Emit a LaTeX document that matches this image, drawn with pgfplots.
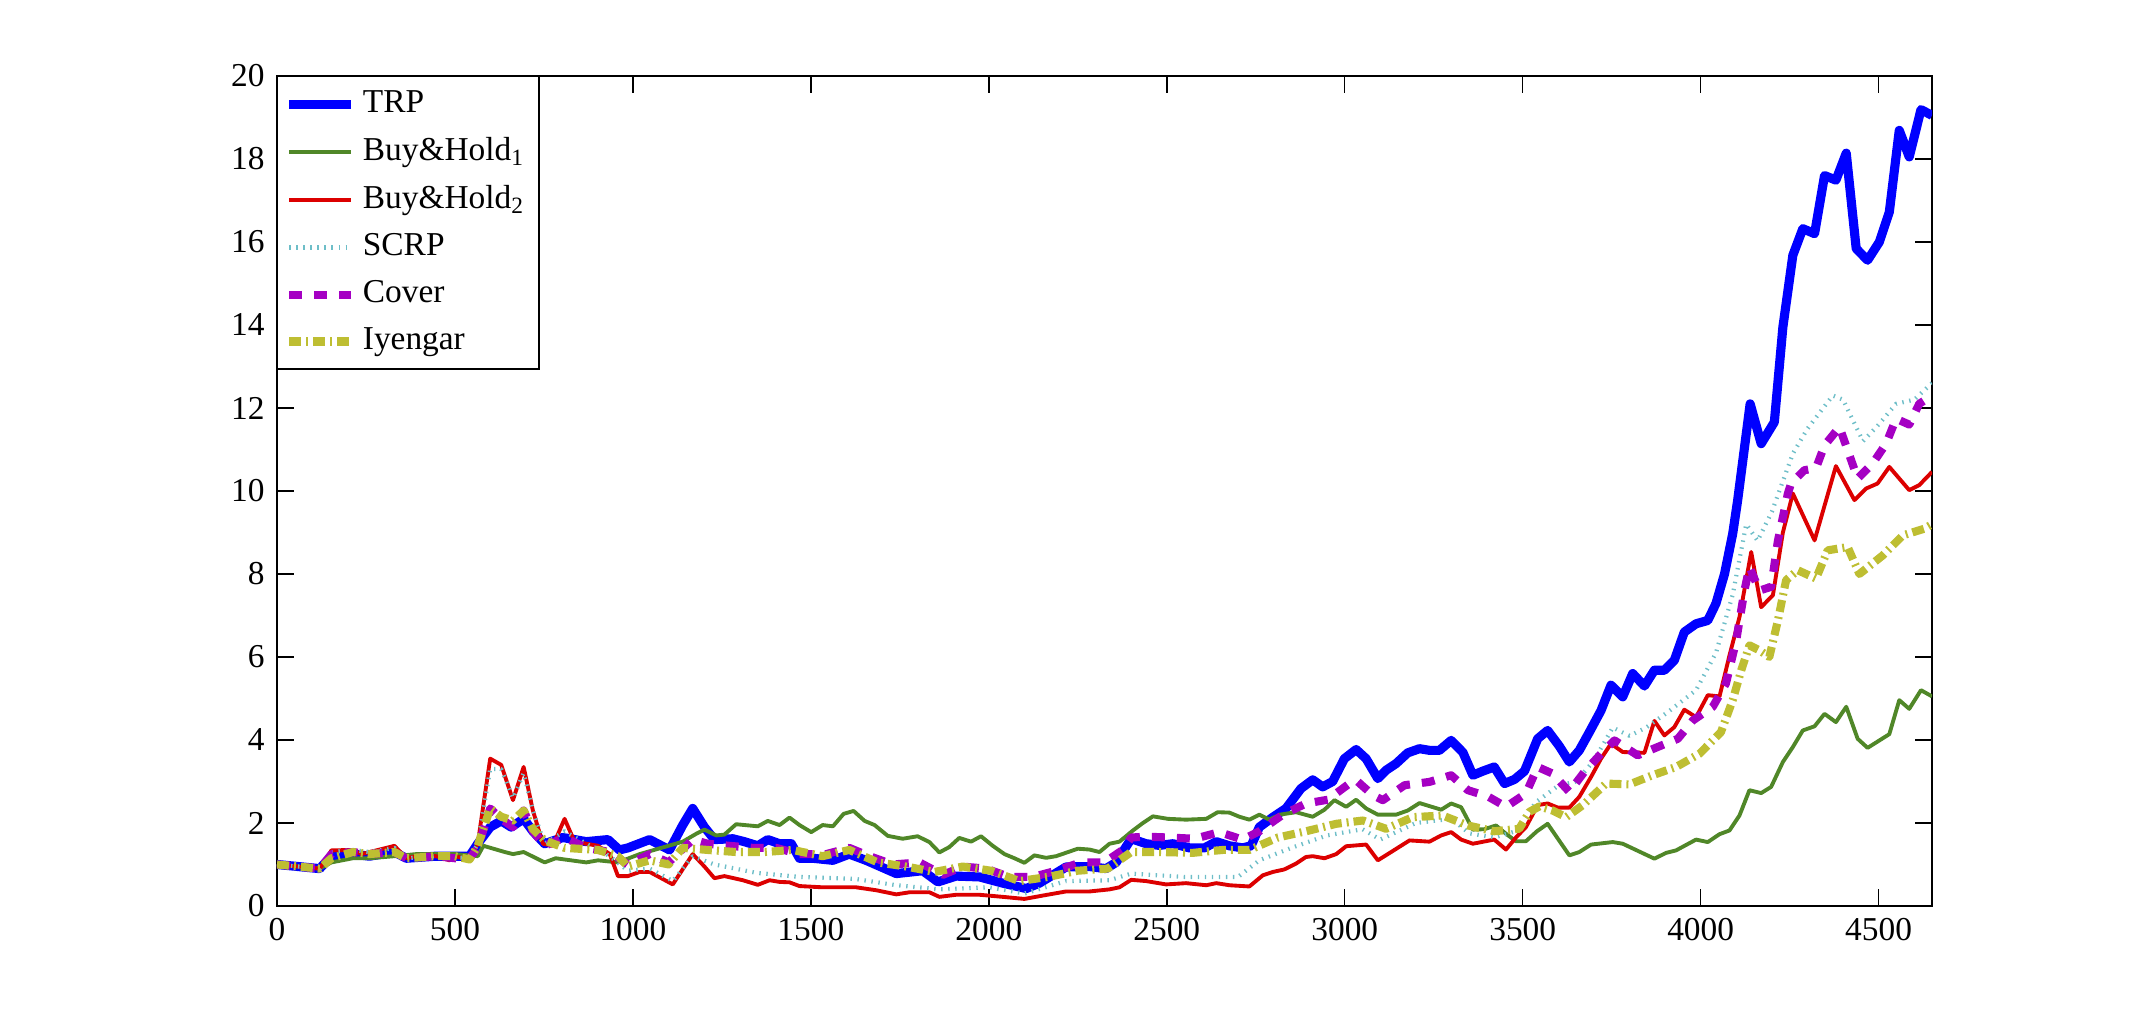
\documentclass[border=0pt]{standalone}
\usepackage{fontspec}
\setmainfont{Liberation Serif}
\usepackage{pgfplots}
\pgfplotsset{compat=1.18}

\definecolor{trpblue}{RGB}{0,0,255}
\definecolor{bhgreen}{RGB}{80,135,40}
\definecolor{bhred}{RGB}{220,0,0}
\definecolor{scrpcyan}{RGB}{110,190,200}
\definecolor{covpurple}{RGB}{165,0,195}
\definecolor{iyeyellow}{RGB}{190,190,50}

\begin{document}
\begin{tikzpicture}
\useasboundingbox (-2.77cm,-1.14cm) rectangle (18.58cm,9.06cm);
\begin{axis}[at={(0,0)}, anchor=south west,
  width=16.55cm, height=8.30cm, scale only axis,
  xmin=0, xmax=4650, ymin=0, ymax=20,
  xtick={0,500,...,4500}, ytick={0,2,...,20},
  /pgf/number format/1000 sep={},
  /pgf/number format/assume math mode=true,
  tick label style={font=\fontsize{9.5}{11}\selectfont},
  major tick length=0.17cm, tick style={black, line width=0.4pt},
  axis line style={black, line width=0.6pt},
  legend style={at={(0,1)}, anchor=north west, draw=black, line width=0.4pt,
    font=\fontsize{9.5}{11}\selectfont, cells={anchor=west},
    row sep=1.6pt, inner sep=2pt},
  legend image code/.code={\draw[#1] (0cm,0cm) -- (0.62cm,0cm);},
  every axis plot/.append style={line join=round}]

% TRP
\addplot[trpblue, line width=2.6pt] coordinates {
(0,1.0) (60,0.95) (120,0.9) (153,1.2) (213,1.25) (260,1.2) (330,1.3) (363,1.15)
(447,1.2) (541,1.2) (564,1.5) (599,1.9) (630,2.05) (658,1.9) (693,2.1) (719,1.8)
(752,1.5) (803,1.65) (869,1.55) (930,1.6) (962,1.35) (986,1.4) (1047,1.6) (1103,1.35)
(1140,1.95) (1168,2.35) (1201,1.9) (1229,1.6) (1281,1.62) (1313,1.55) (1351,1.45)
(1379,1.6) (1412,1.5) (1445,1.5) (1468,1.15) (1505,1.15) (1562,1.1) (1608,1.25)
(1655,1.1) (1740,0.78) (1814,0.85) (1857,0.58) (1908,0.72) (1974,0.7) (2039,0.55)
(2105,0.42) (2142,0.55) (2217,0.94) (2283,0.95) (2329,0.9) (2358,1.05) (2376,1.3)
(2400,1.62) (2442,1.5) (2479,1.46) (2517,1.5) (2564,1.4) (2606,1.4) (2639,1.55)
(2676,1.45) (2713,1.4) (2737,1.45) (2760,1.9) (2798,2.14) (2835,2.35) (2877,2.83)
(2910,3.04) (2938,2.87) (2966,3.0) (2999,3.55) (3032,3.77) (3060,3.55) (3093,3.07)
(3116,3.27) (3144,3.43) (3177,3.69) (3210,3.79) (3238,3.75) (3266,3.75) (3299,3.99)
(3332,3.7) (3360,3.15) (3388,3.25) (3420,3.35) (3449,2.95) (3477,3.05) (3505,3.25)
(3542,4.03) (3570,4.23) (3603,3.85) (3631,3.47) (3659,3.75) (3688,4.2) (3720,4.71)
(3748,5.32) (3781,5.04) (3809,5.6) (3842,5.3) (3870,5.68) (3898,5.68) (3926,5.92)
(3954,6.6) (3987,6.8) (4020,6.88) (4043,7.29) (4067,8.0) (4090,8.97) (4104,9.78)
(4139,12.1) (4170,11.14) (4207,11.66) (4231,13.95) (4259,15.68) (4287,16.32)
(4320,16.2) (4348,17.6) (4380,17.49) (4409,18.14) (4437,15.84) (4469,15.56)
(4502,16.0) (4530,16.72) (4558,18.69) (4586,18.05) (4619,19.19) (4650,19.05)};
\addlegendentry{TRP}

% Buy&Hold 1
\addplot[bhgreen, line width=1.1pt] coordinates {
(0,1.0) (60,0.95) (120,0.9) (153,1.05) (213,1.15) (260,1.15) (330,1.2) (391,1.25)
(500,1.25) (564,1.2) (580,1.45) (640,1.3) (663,1.25) (693,1.3) (752,1.05) (783,1.15)
(869,1.05) (902,1.1) (958,1.05) (1019,1.25) (1100,1.45) (1140,1.55) (1178,1.74)
(1201,1.84) (1234,1.7) (1257,1.72) (1290,1.97) (1351,1.92) (1379,2.05) (1412,1.95)
(1440,2.13) (1468,1.95) (1501,1.78) (1533,1.95) (1562,1.92) (1592,2.22) (1620,2.29)
(1651,2.05) (1679,1.95) (1716,1.69) (1758,1.62) (1800,1.68) (1833,1.54) (1861,1.29)
(1889,1.42) (1917,1.64) (1950,1.55) (1978,1.68) (2011,1.45) (2044,1.25) (2072,1.15)
(2100,1.04) (2128,1.22) (2161,1.16) (2189,1.2) (2250,1.38) (2283,1.36) (2311,1.3)
(2339,1.5) (2367,1.55) (2405,1.82) (2433,2.0) (2461,2.16) (2503,2.1) (2554,2.08)
(2611,2.1) (2643,2.26) (2676,2.25) (2704,2.15) (2732,2.08) (2760,2.2) (2788,2.08)
(2817,2.2) (2863,2.26) (2910,2.15) (2943,2.32) (2971,2.55) (3004,2.39) (3032,2.56)
(3060,2.35) (3093,2.2) (3144,2.2) (3177,2.3) (3210,2.48) (3271,2.32) (3299,2.47)
(3327,2.38) (3360,1.84) (3392,1.85) (3425,1.94) (3453,1.74) (3481,1.56) (3509,1.56)
(3540,1.8) (3570,1.98) (3631,1.22) (3659,1.3) (3692,1.48) (3753,1.54) (3781,1.5)
(3870,1.14) (3903,1.28) (3931,1.34) (3987,1.6) (4020,1.54) (4053,1.73) (4081,1.82)
(4109,2.18) (4137,2.79) (4170,2.72) (4198,2.87) (4231,3.47) (4259,3.83) (4287,4.23)
(4320,4.33) (4348,4.63) (4380,4.43) (4409,4.8) (4441,4.03) (4469,3.81) (4530,4.14)
(4558,4.96) (4586,4.75) (4619,5.2) (4650,5.05)};
\addlegendentry{Buy\&Hold\textsubscript{1}}

% Buy&Hold 2
\addplot[bhred, line width=1.1pt] coordinates {
(0,1.0) (60,0.95) (120,0.9) (153,1.34) (213,1.35) (237,1.25) (298,1.38) (330,1.45)
(363,1.15) (391,1.2) (447,1.2) (485,1.1) (500,1.2) (541,1.12) (564,1.5) (599,3.55)
(630,3.4) (663,2.55) (693,3.35) (719,2.3) (747,1.5) (775,1.45) (808,2.1) (836,1.55)
(869,1.5) (902,1.45) (935,1.25) (958,0.72) (986,0.72) (1019,0.82) (1047,0.82)
(1112,0.52) (1168,1.25) (1201,0.95) (1229,0.67) (1257,0.72) (1309,0.62) (1351,0.51)
(1384,0.62) (1412,0.58) (1440,0.57) (1468,0.48) (1533,0.45) (1627,0.45) (1683,0.38)
(1740,0.28) (1777,0.33) (1833,0.33) (1861,0.22) (1908,0.27) (1974,0.27) (2039,0.22)
(2100,0.17) (2151,0.25) (2217,0.35) (2283,0.35) (2339,0.4) (2367,0.45) (2400,0.63)
(2442,0.6) (2498,0.52) (2554,0.55) (2611,0.5) (2639,0.55) (2676,0.5) (2732,0.47)
(2770,0.74) (2798,0.82) (2830,0.88) (2863,1.02) (2891,1.18) (2910,1.2) (2943,1.15)
(2976,1.25) (3004,1.44) (3060,1.48) (3093,1.1) (3121,1.25) (3182,1.58) (3238,1.55)
(3271,1.7) (3299,1.78) (3327,1.6) (3360,1.5) (3420,1.6) (3453,1.36) (3481,1.65)
(3509,1.9) (3519,2.06) (3542,2.43) (3570,2.47) (3599,2.37) (3631,2.37) (3659,2.63)
(3692,3.11) (3720,3.55) (3748,3.91) (3781,3.71) (3842,3.69) (3870,4.46) (3898,4.11)
(3926,4.31) (3954,4.73) (3987,4.55) (4020,5.08) (4053,5.05) (4081,6.04) (4109,6.96)
(4142,8.53) (4170,7.2) (4203,7.49) (4231,9.0) (4259,9.94) (4320,8.81) (4380,10.6)
(4432,9.78) (4465,10.06) (4497,10.18) (4530,10.58) (4586,10.02) (4614,10.14)
(4650,10.46)};
\addlegendentry{Buy\&Hold\textsubscript{2}}

% SCRP
\addplot[scrpcyan, line width=1.2pt, dash pattern=on 0.4pt off 1.6pt] coordinates {
(0,1.0) (60,0.95) (120,0.9) (153,1.3) (213,1.35) (260,1.3) (330,1.4) (363,1.15)
(447,1.2) (541,1.15) (564,1.5) (599,3.3) (630,3.3) (663,2.6) (693,3.2) (719,2.3)
(752,1.5) (808,1.8) (869,1.5) (935,1.2) (986,0.85) (1047,0.9) (1112,0.6) (1168,1.2)
(1229,1.0) (1346,0.8) (1468,0.7) (1627,0.65) (1740,0.5) (1861,0.4) (2002,0.45)
(2100,0.3) (2217,0.6) (2339,0.62) (2400,0.78) (2550,0.7) (2700,0.7) (2760,1.1)
(2850,1.4) (2950,1.7) (3050,1.85) (3100,1.6) (3200,2.0) (3300,2.1) (3350,1.75)
(3420,1.65) (3480,1.8) (3537,2.5) (3600,2.9) (3650,3.0) (3700,3.5) (3753,4.3)
(3800,4.1) (3847,4.3) (3912,4.7) (3987,5.2) (4043,6.1) (4090,7.5) (4128,9.2)
(4160,8.8) (4200,9.5) (4259,10.9) (4300,11.5) (4371,12.3) (4400,12.2) (4456,11.2)
(4500,11.6) (4549,12.1) (4600,12.2) (4650,12.6)};
\addlegendentry{SCRP}

% Cover
\addplot[covpurple, line width=2.3pt, dash pattern=on 1.3mm off 1.2mm] coordinates {
(0,1.0) (60,0.95) (120,0.9) (153,1.25) (213,1.3) (260,1.25) (330,1.3) (363,1.15)
(447,1.2) (500,1.15) (541,1.15) (564,1.4) (599,2.35) (630,2.1) (663,1.9) (693,2.3)
(719,1.8) (752,1.45) (808,1.65) (869,1.4) (935,1.3) (986,1.0) (1047,1.25) (1100,1.05)
(1168,1.6) (1210,1.5) (1271,1.45) (1337,1.4) (1402,1.4) (1468,1.25) (1543,1.25)
(1608,1.4) (1665,1.2) (1730,1.0) (1805,1.05) (1871,0.75) (1927,0.95) (1992,0.9)
(2058,0.7) (2124,0.7) (2189,0.85) (2259,1.05) (2325,1.05) (2376,1.35) (2400,1.65)
(2442,1.67) (2508,1.65) (2578,1.62) (2648,1.78) (2713,1.6) (2760,1.8) (2826,2.2)
(2891,2.47) (2952,2.56) (3013,2.95) (3032,3.03) (3079,2.67) (3107,2.55) (3168,2.91)
(3238,2.99) (3299,3.15) (3346,2.79) (3402,2.64) (3453,2.39) (3509,2.71) (3542,3.35)
(3584,3.19) (3631,2.75) (3673,3.23) (3720,3.67) (3758,3.99) (3823,3.63) (3879,3.83)
(3936,4.03) (3978,4.47) (4034,4.8) (4071,5.36) (4100,6.4) (4123,7.6) (4137,8.17)
(4165,7.6) (4198,7.69) (4217,8.8) (4245,9.94) (4254,10.18) (4291,10.5) (4324,10.55)
(4348,11.1) (4390,11.54) (4441,10.3) (4483,10.66) (4521,11.14) (4549,11.74)
(4586,11.6) (4614,12.1) (4650,12.3)};
\addlegendentry{Cover}

% Iyengar
\addplot[iyeyellow, line width=2.3pt, dash pattern=on 1.2mm off 0.5mm on 0.2mm off 0.5mm] coordinates {
(0,1.0) (60,0.95) (120,0.9) (153,1.15) (213,1.3) (260,1.25) (330,1.3) (363,1.15)
(447,1.2) (500,1.2) (541,1.12) (564,1.45) (599,2.35) (630,2.15) (663,2.06) (693,2.3)
(719,1.85) (752,1.58) (808,1.4) (902,1.35) (958,1.2) (986,0.95) (1047,1.1) (1100,1.0)
(1140,1.4) (1210,1.35) (1290,1.3) (1370,1.3) (1449,1.35) (1533,1.2) (1608,1.35)
(1688,1.05) (1768,0.95) (1847,0.82) (1927,0.95) (2006,0.85) (2086,0.6) (2166,0.7)
(2250,0.85) (2334,0.9) (2400,1.3) (2479,1.3) (2573,1.28) (2657,1.35) (2732,1.35)
(2812,1.65) (2891,1.8) (2976,1.98) (3051,2.06) (3116,1.86) (3191,2.14) (3275,2.18)
(3346,1.94) (3420,1.8) (3490,1.86) (3519,2.27) (3547,2.4) (3584,2.3) (3622,2.14)
(3669,2.43) (3734,2.95) (3800,2.93) (3865,3.15) (3931,3.35) (3997,3.67) (4057,4.19)
(4090,4.96) (4114,5.68) (4137,6.28) (4165,6.16) (4193,6.0) (4217,6.88) (4240,7.85)
(4273,8.09) (4324,7.89) (4357,8.57) (4413,8.65) (4446,8.0) (4512,8.45) (4568,8.93)
(4628,9.09) (4650,9.2)};
\addlegendentry{Iyengar}
\end{axis}
\end{tikzpicture}
\end{document}
